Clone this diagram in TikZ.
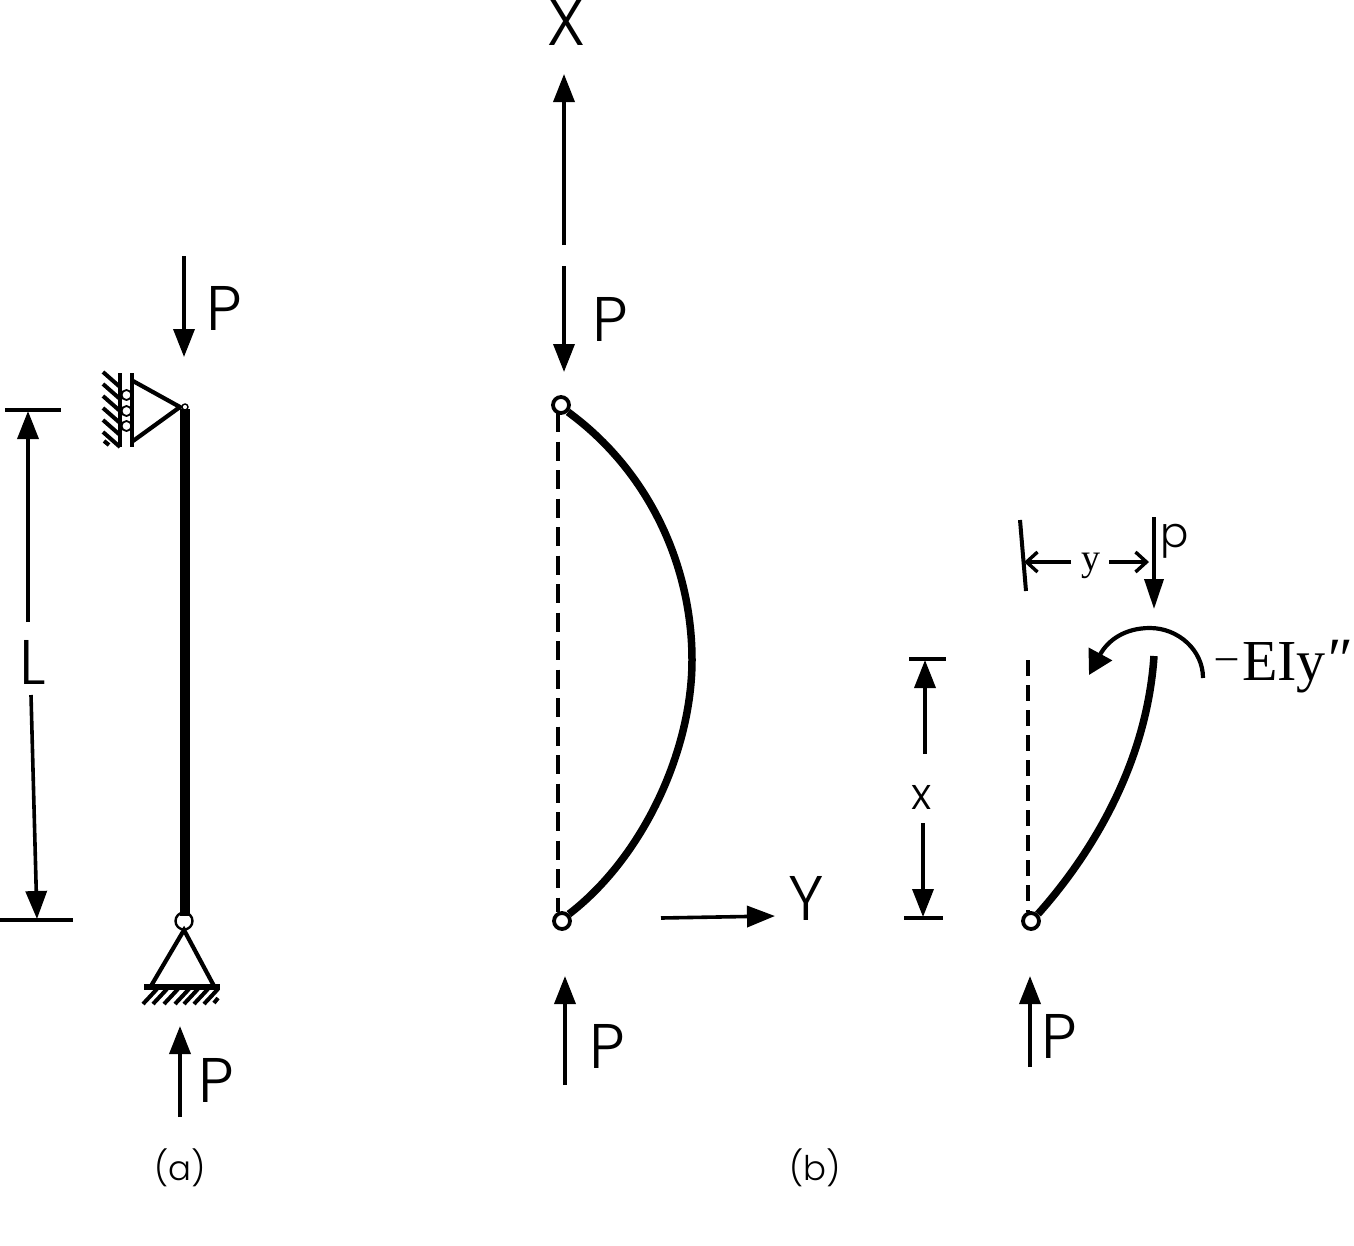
\documentclass[tikz,border=0pt]{standalone}
\usepackage{fontspec}
\setmainfont{Poppins}[UprightFont=* Light]
\newfontfamily\serifpart{Liberation Serif}
\usetikzlibrary{arrows.meta}
\tikzset{
  bigarrow/.style={line width=3.6pt,-{Triangle[length=28pt,width=21pt]}},
  midarrow/.style={line width=3.6pt,-{Triangle[length=30pt,width=19pt]}},
  openarrow/.style={line width=3.4pt,-{Straight Barb[length=11pt,width=20pt,line width=3.4pt]}},
  dimline/.style={line width=3.6pt},
  hinge/.style={circle,draw,line width=3.8pt,fill=white,minimum size=16pt,inner sep=0pt},
  thinhinge/.style={circle,draw,line width=2.4pt,minimum size=17pt,inner sep=0pt},
  smallhinge/.style={circle,draw,line width=1.4pt,fill=white,minimum size=6pt,inner sep=0pt},
  roller/.style={circle,draw,line width=1.8pt,minimum size=10pt,inner sep=0pt},
  support/.style={line width=4.2pt,line join=miter},
  hatchline/.style={line width=4pt},
  deflect/.style={line width=7.5pt},
  dashline/.style={line width=3.6pt,dash pattern=on 19pt off 9.5pt},
  letter/.style={font=\fontsize{63}{63}\selectfont,inner sep=0pt},
  caption/.style={font=\fontsize{34}{34}\selectfont,inner sep=0pt},
}
\begin{document}
\begin{tikzpicture}[x=1pt,y=-1pt]
\useasboundingbox (0,0) rectangle (1354,1245);
% ---- (a)
\coordinate (aPs) at (184,256); \coordinate (aPe) at (184,357);
\draw[bigarrow] (aPs) -- (aPe);
\node[letter] (aP1) at (224,308) {P};
\coordinate (Lt1) at (5,410); \coordinate (Lt2) at (61,410);
\coordinate (Lb1) at (0,920); \coordinate (Lb2) at (73,920);
\draw[dimline] (Lt1) -- (Lt2);
\draw[dimline] (Lb1) -- (Lb2);
\node[letter] (Ltxt) at (33,662) {L};
\coordinate (Lu1) at (28,622); \coordinate (Lu2) at (28,411);
\coordinate (Ld1) at (31,695); \coordinate (Ld2) at (37,919);
\draw[bigarrow] (Lu1) -- (Lu2);
\draw[bigarrow] (Ld1) -- (Ld2);
\coordinate (colt) at (185,409); \coordinate (colb) at (185,916);
\draw[line width=9.5pt] (colt) -- (colb);
% top support
\foreach \y in {395,411,426} \node[roller] at (126.5,\y) {};
\coordinate (w1) at (120,373); \coordinate (w2) at (120,447);
\coordinate (r1) at (132,373); \coordinate (r2) at (132,447);
\draw[line width=4.6pt] (w1) -- (w2);
\draw[line width=4.6pt] (r1) -- (r2);
\coordinate (ta) at (133,381); \coordinate (tb) at (180,407); \coordinate (tc) at (133,441);
\draw[support] (ta) -- (tb) -- (tc);
\foreach \y in {372,384,396,408,420,432} \draw[hatchline] (103,\y) -- (120,\y+15);
\draw[hatchline] (104,441) -- (109,445);
\node[smallhinge] (topH) at (185,407) {};
% bottom support
\node[thinhinge] (botH) at (184,921) {};
\coordinate (ba) at (184,930); \coordinate (bb) at (151,986); \coordinate (bc) at (214,986);
\draw[support] (bb) -- (ba) -- (bc);
\coordinate (g1) at (144,987); \coordinate (g2) at (220,987);
\draw[line width=6pt] (g1) -- (g2);
\foreach \x in {143,153,164,175,184,194,204} \draw[hatchline] (\x,1004) -- (\x+14,989);
\draw[hatchline] (214,1003) -- (218,998);
\coordinate (aP2s) at (180,1117); \coordinate (aP2e) at (180,1026);
\draw[bigarrow] (aP2s) -- (aP2e);
\node[letter] (aP2) at (216,1080) {P};
\node[caption] (capA) at (180,1168) {(a)};
% ---- (b)
\node[letter,font=\fontsize{68}{68}\selectfont] (X) at (566,22) {X};
\coordinate (Xs) at (564,245); \coordinate (Xe) at (564,74);
\draw[bigarrow] (Xs) -- (Xe);
\coordinate (bPs) at (564,266); \coordinate (bPe) at (564,372);
\draw[bigarrow] (bPs) -- (bPe);
\node[letter] (bP1) at (610,319) {P};
\draw[dashline] (558,413) -- (558,912);
\node[hinge] (bT) at (561,405) {};
\node[hinge] (bB) at (562,921) {};
\draw[deflect] (bT.south east) .. controls (650,472) and (692,567) .. (692,660)
   .. controls (692,752) and (642,858) .. (bB.north east);
\coordinate (Ys) at (661,918); \coordinate (Ye) at (775,916);
\draw[bigarrow] (Ys) -- (Ye);
\node[letter] (Y) at (806,898) {Y};
\coordinate (bP2s) at (565,1085); \coordinate (bP2e) at (565,976);
\draw[bigarrow] (bP2s) -- (bP2e);
\node[letter] (bP2) at (607,1046) {P};
\node[caption] (capB) at (815,1168) {(b)};
% ---- free body
\coordinate (t1) at (1020,520); \coordinate (t2) at (1026,591);
\draw[line width=4pt] (t1) -- (t2);
\node[inner sep=0pt,font=\serifpart\fontsize{38}{38}\selectfont] (ytxt) at (1091,566) {y};
\coordinate (y1s) at (1071,562); \coordinate (y1e) at (1024,562);
\coordinate (y2s) at (1109,562); \coordinate (y2e) at (1149,562);
\draw[openarrow] (y1s) -- (y1e);
\draw[openarrow] (y2s) -- (y2e);
\coordinate (ps) at (1154,517); \coordinate (pe) at (1154,609);
\draw[midarrow] (ps) -- (pe);
\node[inner sep=0pt,font=\fontsize{42}{42}\selectfont] (ptxt) at (1175,541) {p};
\node[inner sep=0pt,anchor=base west,font=\serifpart\fontsize{58}{58}\selectfont] (EI) at (1216,680) {\raisebox{11pt}{\fontsize{42}{42}\selectfont –}\kern5pt EIy\kern-1pt{\itshape\raisebox{1pt}{\fontsize{60}{60}\selectfont ″}}};
\coordinate (a1) at (1203,678); \coordinate (a2) at (1089,675);
\draw[line width=4.2pt,-{Triangle[length=24pt,width=26pt]}] (a1) .. controls (1203,650) and (1178,628) .. (1150,628) .. controls (1125,628) and (1108,640) .. (a2);
\coordinate (cT) at (1154,656);
\coordinate (d1) at (1028,660);
\draw[dashline,dash pattern=on 16pt off 9pt,line width=3.4pt] (d1) -- (1028,912);
\node[hinge] (cB) at (1031,921) {};
\draw[deflect] (cT) .. controls (1147,760) and (1095,850) .. (cB.north east);
\coordinate (xt1) at (909,659); \coordinate (xt2) at (946,659);
\coordinate (xb1) at (904,918); \coordinate (xb2) at (943,918);
\draw[dimline] (xt1) -- (xt2);
\draw[dimline] (xb1) -- (xb2);
\coordinate (xu1) at (925,754); \coordinate (xu2) at (925,660);
\coordinate (xd1) at (923,823); \coordinate (xd2) at (923,917);
\draw[bigarrow] (xu1) -- (xu2);
\draw[bigarrow] (xd1) -- (xd2);
\node[inner sep=0pt,font=\fontsize{44}{44}\selectfont] (xtxt) at (922,797) {x};
\coordinate (cPs) at (1030,1067); \coordinate (cPe) at (1030,976);
\draw[bigarrow] (cPs) -- (cPe);
\node[letter] (cP) at (1059,1036) {P};
\end{tikzpicture}
\end{document}
